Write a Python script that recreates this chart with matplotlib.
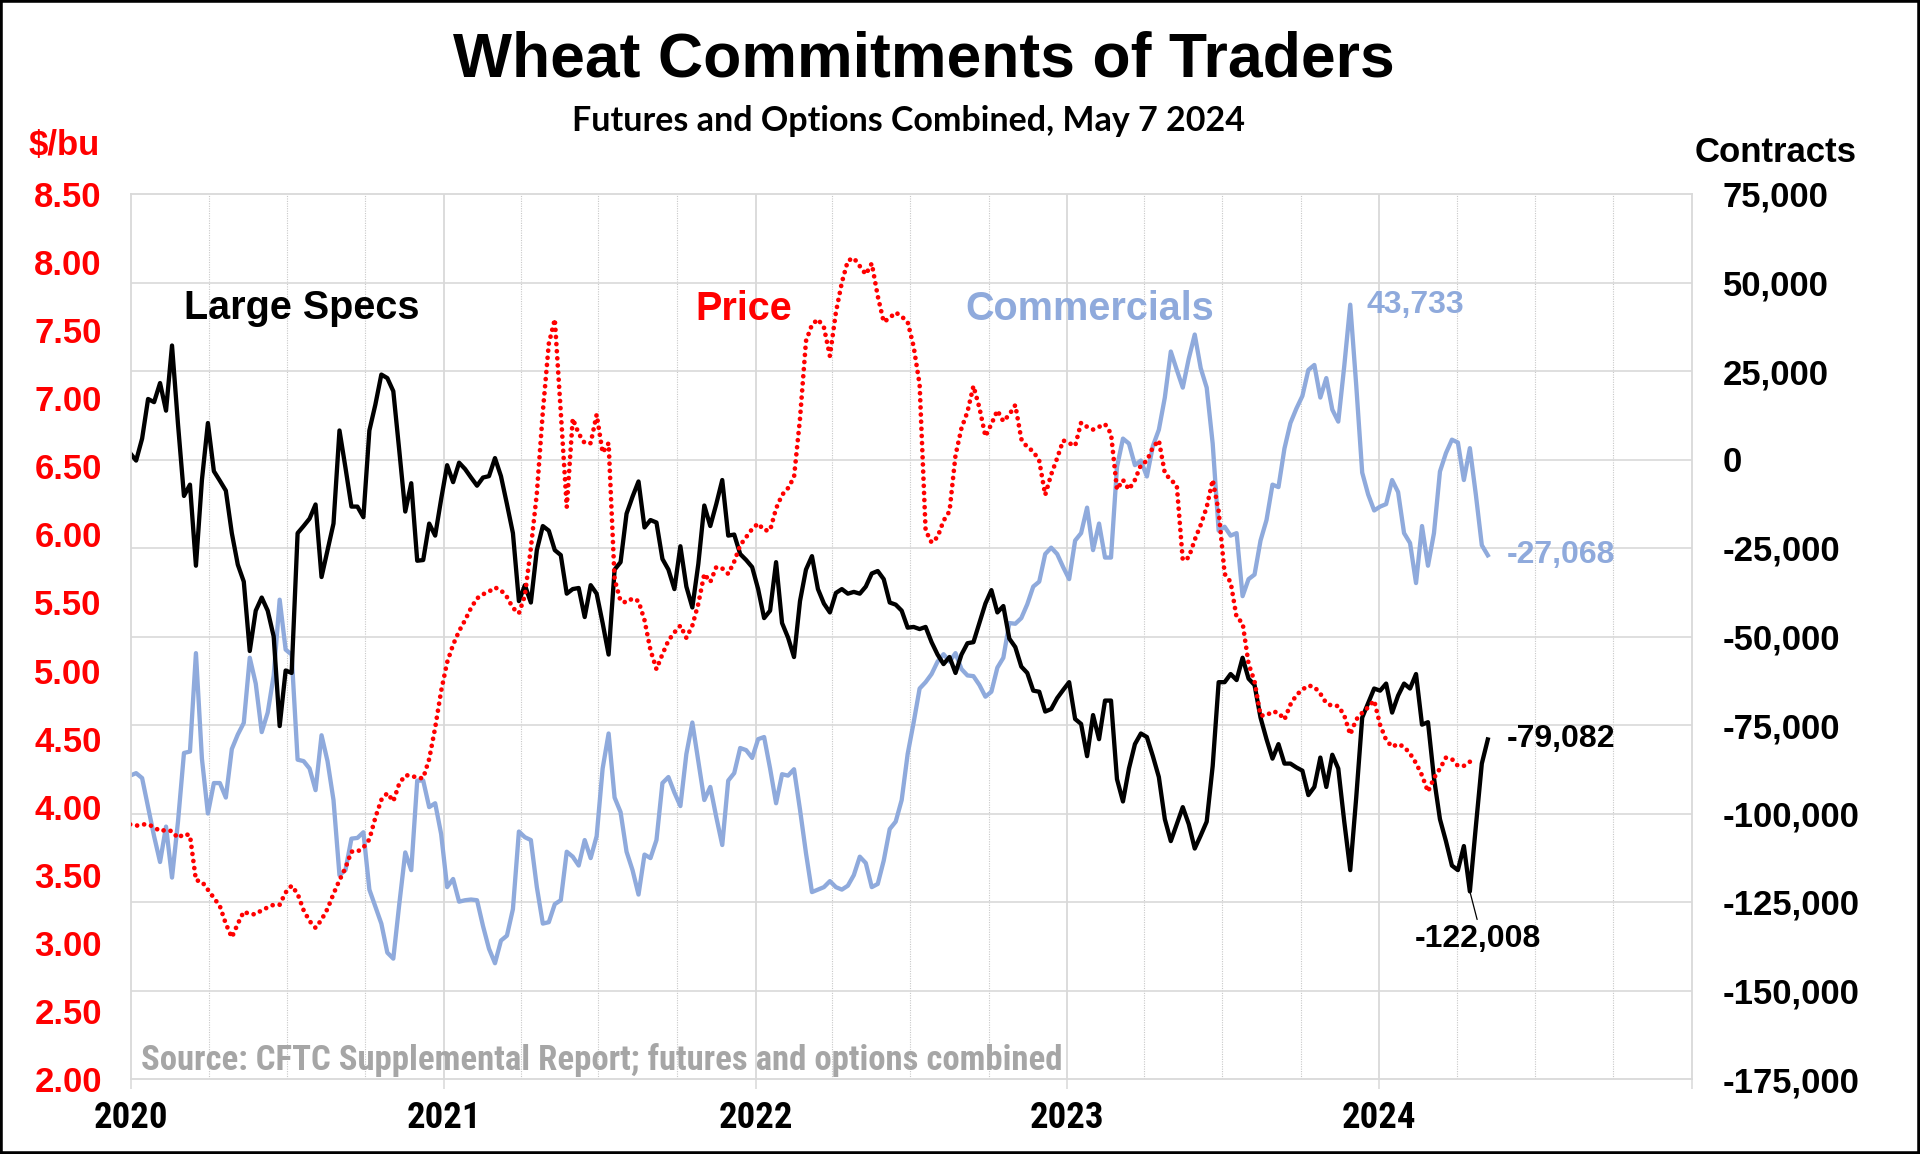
from pathlib import Path

import numpy as np
import matplotlib
matplotlib.use("Agg")
import matplotlib.pyplot as plt
from matplotlib import font_manager
from matplotlib.font_manager import FontProperties
from matplotlib.patches import Rectangle
from matplotlib.ticker import FuncFormatter

# weekly CFTC reports, first one on the last Tuesday of 2019
FIRST_REPORT = "2019-12-31"

# net positions, contracts (right axis)
large_specs = [
    1800, -300, 5900, 17100, 16200, 21600, 13800, 32200, 10000, -10300,
    -7100, -30000, -5800, 10300, -3300, -6000, -8800, -20800, -29700, -34500,
    -54100, -42700, -39000, -42700, -50000, -75300, -59600, -60300, -20800, -18800,
    -16700, -12700, -33200, -25600, -18100, 8200, -2300, -13300, -13300, -16300,
    8200, 15500, 24000, 23000, 19300, 2500, -14700, -6700, -28600, -28400,
    -18100, -21500, -11200, -1600, -6400, -900, -2700, -5100, -7400, -5100,
    -4700, 400, -4700, -12600, -20800, -40000, -35500, -40400, -25600, -18800,
    -20100, -25600, -27000, -37900, -36600, -36300, -44500, -35500, -37900, -46200,
    -55100, -31100, -29000, -15300, -10500, -6200, -19200, -17100, -17800, -28100,
    -31100, -36600, -24500, -35900, -41800, -29500, -13000, -18800, -12600, -5800,
    -21500, -21200, -26700, -28400, -30400, -36600, -44800, -42700, -29000, -46200,
    -50300, -55800, -40000, -31100, -27300, -36600, -40700, -43200, -37700, -36600,
    -37900, -37400, -37900, -35900, -32200, -31500, -33800, -40400, -41000, -42700,
    -47500, -47300, -47900, -47300, -51600, -55100, -57800, -55800, -60300, -55100,
    -51900, -51600, -46200, -40700, -36900, -43200, -41400, -50600, -53000, -58500,
    -60300, -65300, -65600, -71200, -70500, -67400, -65100, -62900, -73300, -74700,
    -83800, -72200, -79000, -68100, -68100, -90300, -96600, -87300, -80400, -77400,
    -78400, -83800, -89700, -101600, -107800, -103000, -98200, -103000, -109900, -106200,
    -102300, -86600, -62900, -62900, -60600, -62300, -56000, -61900, -63700, -72900,
    -79000, -84500, -80400, -85900, -85900, -87000, -87900, -94800, -92500, -84200,
    -92500, -83400, -87300, -102300, -116000, -95500, -72900, -68800, -64700, -65300,
    -63300, -71500, -66700, -63300, -64700, -60600, -74900, -74200, -90000, -101600,
    -107800, -114700, -116000, -109200, -122008, -103700, -85900, -79082,
]

commercials = [
    -89300, -88600, -90000, -98200, -106400, -113700, -103700, -118100, -102300, -82900,
    -82500, -54700, -84500, -100000, -91400, -91400, -95500, -81800, -77700, -74400,
    -56000, -63300, -77000, -71500, -61000, -39600, -53700, -55100, -84800, -85200,
    -87300, -93400, -77900, -85200, -96200, -117400, -116000, -107100, -106900, -105300,
    -121500, -126300, -131100, -139300, -141000, -125600, -111000, -116000, -90700, -90700,
    -98200, -97100, -105800, -120800, -118500, -124900, -124500, -124300, -124500, -131800,
    -138200, -142300, -135900, -134500, -127000, -105100, -106700, -107500, -120800, -131100,
    -130700, -125600, -124500, -110800, -112200, -114700, -107500, -112600, -106400, -87300,
    -77400, -95500, -99600, -110800, -116000, -122900, -111600, -112600, -107500, -91400,
    -89700, -94100, -97900, -83200, -74300, -85200, -96200, -92500, -101000, -108900,
    -90700, -88600, -81500, -82100, -84300, -79000, -78400, -87300, -97100, -88900,
    -89300, -87500, -98900, -111200, -122200, -121500, -120800, -119100, -120800, -121500,
    -120400, -117400, -112200, -114000, -120800, -119900, -113300, -104400, -102300, -96200,
    -83200, -74300, -64700, -62900, -60600, -57100, -55000, -57100, -54700, -59200,
    -61000, -61200, -63700, -67000, -65600, -58800, -56000, -46200, -46400, -44800,
    -40900, -35900, -34500, -26700, -24900, -26700, -30400, -33800, -22900, -20800,
    -13600, -25600, -18100, -27700, -27700, -2100, 5900, 4500, -1600, -300,
    -4800, 3800, 8400, 17500, 30500, 25300, 20300, 28500, 35300, 25800,
    20300, 4500, -20100, -19000, -21500, -20800, -38600, -33800, -32500, -22900,
    -17100, -7100, -7800, 3100, 10300, 14400, 17950, 25300, 26700, 17500,
    23000, 14100, 10700, 26400, 43733, 21000, -3700, -9900, -14400, -13300,
    -12600, -5800, -9200, -20800, -23600, -34900, -18800, -30000, -20800, -3400,
    1800, 5600, 4800, -5800, 3200, -9900, -24200, -27068,
]

# wheat futures, $/bu (left axis)
price = [
    3.87, 3.86, 3.87, 3.87, 3.85, 3.82, 3.83, 3.82, 3.77, 3.80,
    3.79, 3.46, 3.45, 3.39, 3.33, 3.27, 3.14, 3.04, 3.14, 3.23,
    3.21, 3.21, 3.24, 3.26, 3.28, 3.28, 3.37, 3.42, 3.36, 3.24,
    3.16, 3.11, 3.17, 3.25, 3.36, 3.46, 3.55, 3.67, 3.67, 3.70,
    3.76, 3.92, 4.05, 4.10, 4.04, 4.17, 4.23, 4.23, 4.21, 4.21,
    4.35, 4.58, 4.85, 5.06, 5.19, 5.29, 5.37, 5.46, 5.53, 5.56,
    5.58, 5.61, 5.59, 5.54, 5.46, 5.42, 5.55, 5.90, 6.30, 6.90,
    7.40, 7.58, 6.90, 6.20, 6.85, 6.74, 6.67, 6.67, 6.88, 6.60,
    6.67, 5.67, 5.51, 5.50, 5.53, 5.51, 5.37, 5.15, 5.01, 5.12,
    5.22, 5.28, 5.33, 5.24, 5.33, 5.49, 5.71, 5.65, 5.76, 5.75,
    5.71, 5.80, 5.92, 5.98, 6.04, 6.08, 6.03, 6.03, 6.19, 6.29,
    6.34, 6.42, 6.85, 7.42, 7.54, 7.58, 7.52, 7.31, 7.63, 7.85,
    8.01, 8.03, 7.97, 7.91, 7.99, 7.75, 7.56, 7.59, 7.63, 7.60,
    7.56, 7.38, 7.10, 6.03, 5.94, 5.98, 6.10, 6.17, 6.58, 6.78,
    6.90, 7.09, 6.93, 6.72, 6.81, 6.91, 6.83, 6.88, 6.95, 6.70,
    6.64, 6.61, 6.54, 6.29, 6.44, 6.56, 6.69, 6.67, 6.65, 6.82,
    6.79, 6.77, 6.79, 6.81, 6.74, 6.33, 6.40, 6.33, 6.40, 6.51,
    6.54, 6.64, 6.69, 6.45, 6.40, 6.36, 5.81, 5.83, 5.96, 6.07,
    6.20, 6.40, 6.17, 5.71, 5.65, 5.39, 5.35, 5.05, 4.92, 4.67,
    4.67, 4.70, 4.69, 4.64, 4.75, 4.82, 4.86, 4.89, 4.88, 4.83,
    4.76, 4.74, 4.74, 4.67, 4.53, 4.64, 4.69, 4.73, 4.78, 4.60,
    4.49, 4.44, 4.46, 4.44, 4.39, 4.32, 4.23, 4.11, 4.21, 4.28,
    4.36, 4.35, 4.30, 4.30, 4.33,
]

price_ticks = np.arange(2.0, 8.51, 0.5)
contract_ticks = np.arange(-175000, 75001, 25000)
year_ticks = np.array(["2020-01-01", "2021-01-01", "2022-01-01", "2023-01-01",
                       "2024-01-01", "2025-01-01"], dtype="datetime64[D]")
year_labels = ["2020", "2021", "2022", "2023", "2024", ""]

BLACK = "#000000"
RED = "#FF0000"
BLUE = "#8FAADC"
GRID = "#D9D9D9"

plt.rcParams["font.family"] = ["Liberation Sans", "DejaVu Sans"]


def narrow_bold_font():
    """Arial-Narrow-like bold face if one is installed, else None."""
    prefer = ("liberationsansnarrow", "arialn", "robotocondensed", "opensanscondensed",
              "notosans-condensed")
    best, best_rank = None, len(prefer)
    for f in font_manager.fontManager.ttflist:
        base = Path(f.fname).name.lower().replace("_", "")
        if "bold" not in base or f.style != "normal":
            continue
        if any(k in base for k in ("semi", "extra", "ultra", "italic", "oblique", "mono")):
            continue
        for rank, key in enumerate(prefer):
            if key in base and rank < best_rank:
                best, best_rank = f.fname, rank
    return best


def main() -> None:
    report_dates = np.datetime64(FIRST_REPORT) + np.arange(len(large_specs)) * np.timedelta64(7, "D")
    price_dates = report_dates[: len(price)]

    narrow = narrow_bold_font()
    if narrow:
        year_fp = FontProperties(fname=narrow, size=26.5)
        src_fp = FontProperties(fname=narrow, size=25)
    else:
        year_fp = FontProperties(family=["Liberation Sans"], weight="bold", size=22.5)
        src_fp = FontProperties(family=["Liberation Sans"], weight="bold", size=20.5)

    W, H = 1920, 1154
    fig = plt.figure(figsize=(W / 100, H / 100), dpi=100, facecolor="white")
    ax = fig.add_axes([131 / W, 1 - 1079 / H, (1692 - 131) / W, (1079 - 194) / H])
    ax2 = ax.twinx()
    # price on the top layer, positions underneath
    ax.set_zorder(ax2.get_zorder() + 1)
    ax.patch.set_visible(False)

    x0, x1 = year_ticks[0], year_ticks[-1]
    ax.set_xlim(x0, x1)
    ax.set_ylim(price_ticks[0], price_ticks[-1])
    ax2.set_ylim(contract_ticks[0], contract_ticks[-1])

    # grid on the back axes: dotted quarters, solid years and contract levels
    for yr in range(2020, 2025):
        for m in ("04", "07", "10"):
            ax2.axvline(np.datetime64(f"{yr}-{m}-01"), color="#C8C8C8", lw=0.8,
                        ls=(0, (1, 1.2)), zorder=0.5)
    for yt in year_ticks[1:-1]:
        ax2.axvline(yt, color=GRID, lw=1.3, zorder=0.6)
    for c in contract_ticks[1:-1]:
        ax2.axhline(c, color=GRID, lw=1.2, zorder=0.6)

    ax2.plot(report_dates, commercials, color=BLUE, lw=3.1, zorder=2, solid_joinstyle="round")
    ax2.plot(report_dates, large_specs, color=BLACK, lw=3.1, zorder=3, solid_joinstyle="round")
    ax.plot(price_dates, price, color=RED, lw=3.4, ls=(0, (0.01, 1.5)),
            dash_capstyle="round", zorder=4)

    for a in (ax, ax2):
        for s in a.spines.values():
            s.set_visible(False)
    for side in ("left", "right", "top", "bottom"):
        ax.spines[side].set_visible(True)
        ax.spines[side].set_color(GRID)
        ax.spines[side].set_linewidth(1.3)

    # x axis
    ax.set_xticks(year_ticks)
    ax.set_xticklabels(year_labels)
    ax.tick_params(axis="x", direction="out", length=7.5, width=1.1, color=GRID, pad=7.5)
    for lab in ax.get_xticklabels():
        lab.set_fontproperties(year_fp)
        lab.set_color(BLACK)

    # left axis: price
    ax.set_yticks(price_ticks)
    ax.yaxis.set_major_formatter(FuncFormatter(lambda v, _: f"{v:.2f}"))
    ax.tick_params(axis="y", length=0, pad=21, labelsize=25, labelcolor=RED)
    for lab in ax.get_yticklabels():
        lab.set_fontweight("bold")

    # right axis: contracts
    ax2.set_yticks(contract_ticks)
    ax2.yaxis.set_major_formatter(FuncFormatter(lambda v, _: f"{v:,.0f}"))
    ax2.tick_params(axis="y", length=0, pad=22, labelsize=25, labelcolor=BLACK)
    for lab in ax2.get_yticklabels():
        lab.set_fontweight("bold")

    # titles and axis captions
    fig.text(924 / W, 1 - 60 / H, "Wheat Commitments of Traders", ha="center", va="center",
             fontsize=45, fontweight="bold", color=BLACK)
    fig.text(909 / W, 1 - 121 / H, "Futures and Options Combined, May 7 2024", ha="center",
             va="center", fontsize=24.5, fontweight="bold", color=BLACK,
             family=["Lato", "Open Sans", "DejaVu Sans"])
    fig.text(100 / W, 1 - 145 / H, "$/bu", ha="right", va="center", fontsize=25,
             fontweight="bold", color=RED)
    fig.text(1776 / W, 1 - 153 / H, "Contracts", ha="center", va="center", fontsize=25,
             fontweight="bold", color=BLACK)

    # series names
    ax.text((302 - 131) / 1561, (1079 - 308) / 885, "Large Specs", transform=ax.transAxes,
            ha="center", va="center", fontsize=28.5, fontweight="bold", color=BLACK)
    ax.text((744 - 131) / 1561, (1079 - 309) / 885, "Price", transform=ax.transAxes,
            ha="center", va="center", fontsize=28.5, fontweight="bold", color=RED)
    ax.text((1090 - 131) / 1561, (1079 - 309) / 885, "Commercials", transform=ax.transAxes,
            ha="center", va="center", fontsize=28.5, fontweight="bold", color=BLUE)

    ax.text((141 - 131) / 1561, (1079 - 1060) / 885,
            "Source: CFTC Supplemental Report; futures and options combined",
            transform=ax.transAxes, ha="left", va="center", fontproperties=src_fp,
            color="#A6A6A6")

    # value call-outs
    peak = int(np.argmax(commercials))
    low = int(np.argmin(large_specs))
    note = dict(textcoords="offset points", fontsize=23, fontweight="bold")
    ax2.annotate(f"{commercials[peak]:,.0f}", (report_dates[peak], commercials[peak]),
                 xytext=(12, 0), ha="left", va="center", color=BLUE, **note)
    ax2.annotate(f"{commercials[-1]:,.0f}", (report_dates[-1], commercials[-1]),
                 xytext=(14, 0), ha="left", va="center", color=BLUE, **note)
    ax2.annotate(f"{large_specs[-1]:,.0f}", (report_dates[-1], large_specs[-1]),
                 xytext=(14, 0), ha="left", va="center", color=BLACK, **note)
    ax2.annotate(f"{large_specs[low]:,.0f}", (report_dates[low], large_specs[low]),
                 xytext=(6, -34), ha="center", va="center", color=BLACK,
                 arrowprops=dict(arrowstyle="-", color=BLACK, lw=0.9, shrinkA=1, shrinkB=1,
                                 relpos=(0.5, 1.0)), **note)

    # outer black frame
    fig.patches.append(Rectangle((0, 0), 1, 1, transform=fig.transFigure, fill=False,
                                 lw=4, edgecolor=BLACK, zorder=10))

    fig.savefig("out.png", dpi=100, facecolor="white")
    plt.close(fig)


if __name__ == "__main__":
    main()
